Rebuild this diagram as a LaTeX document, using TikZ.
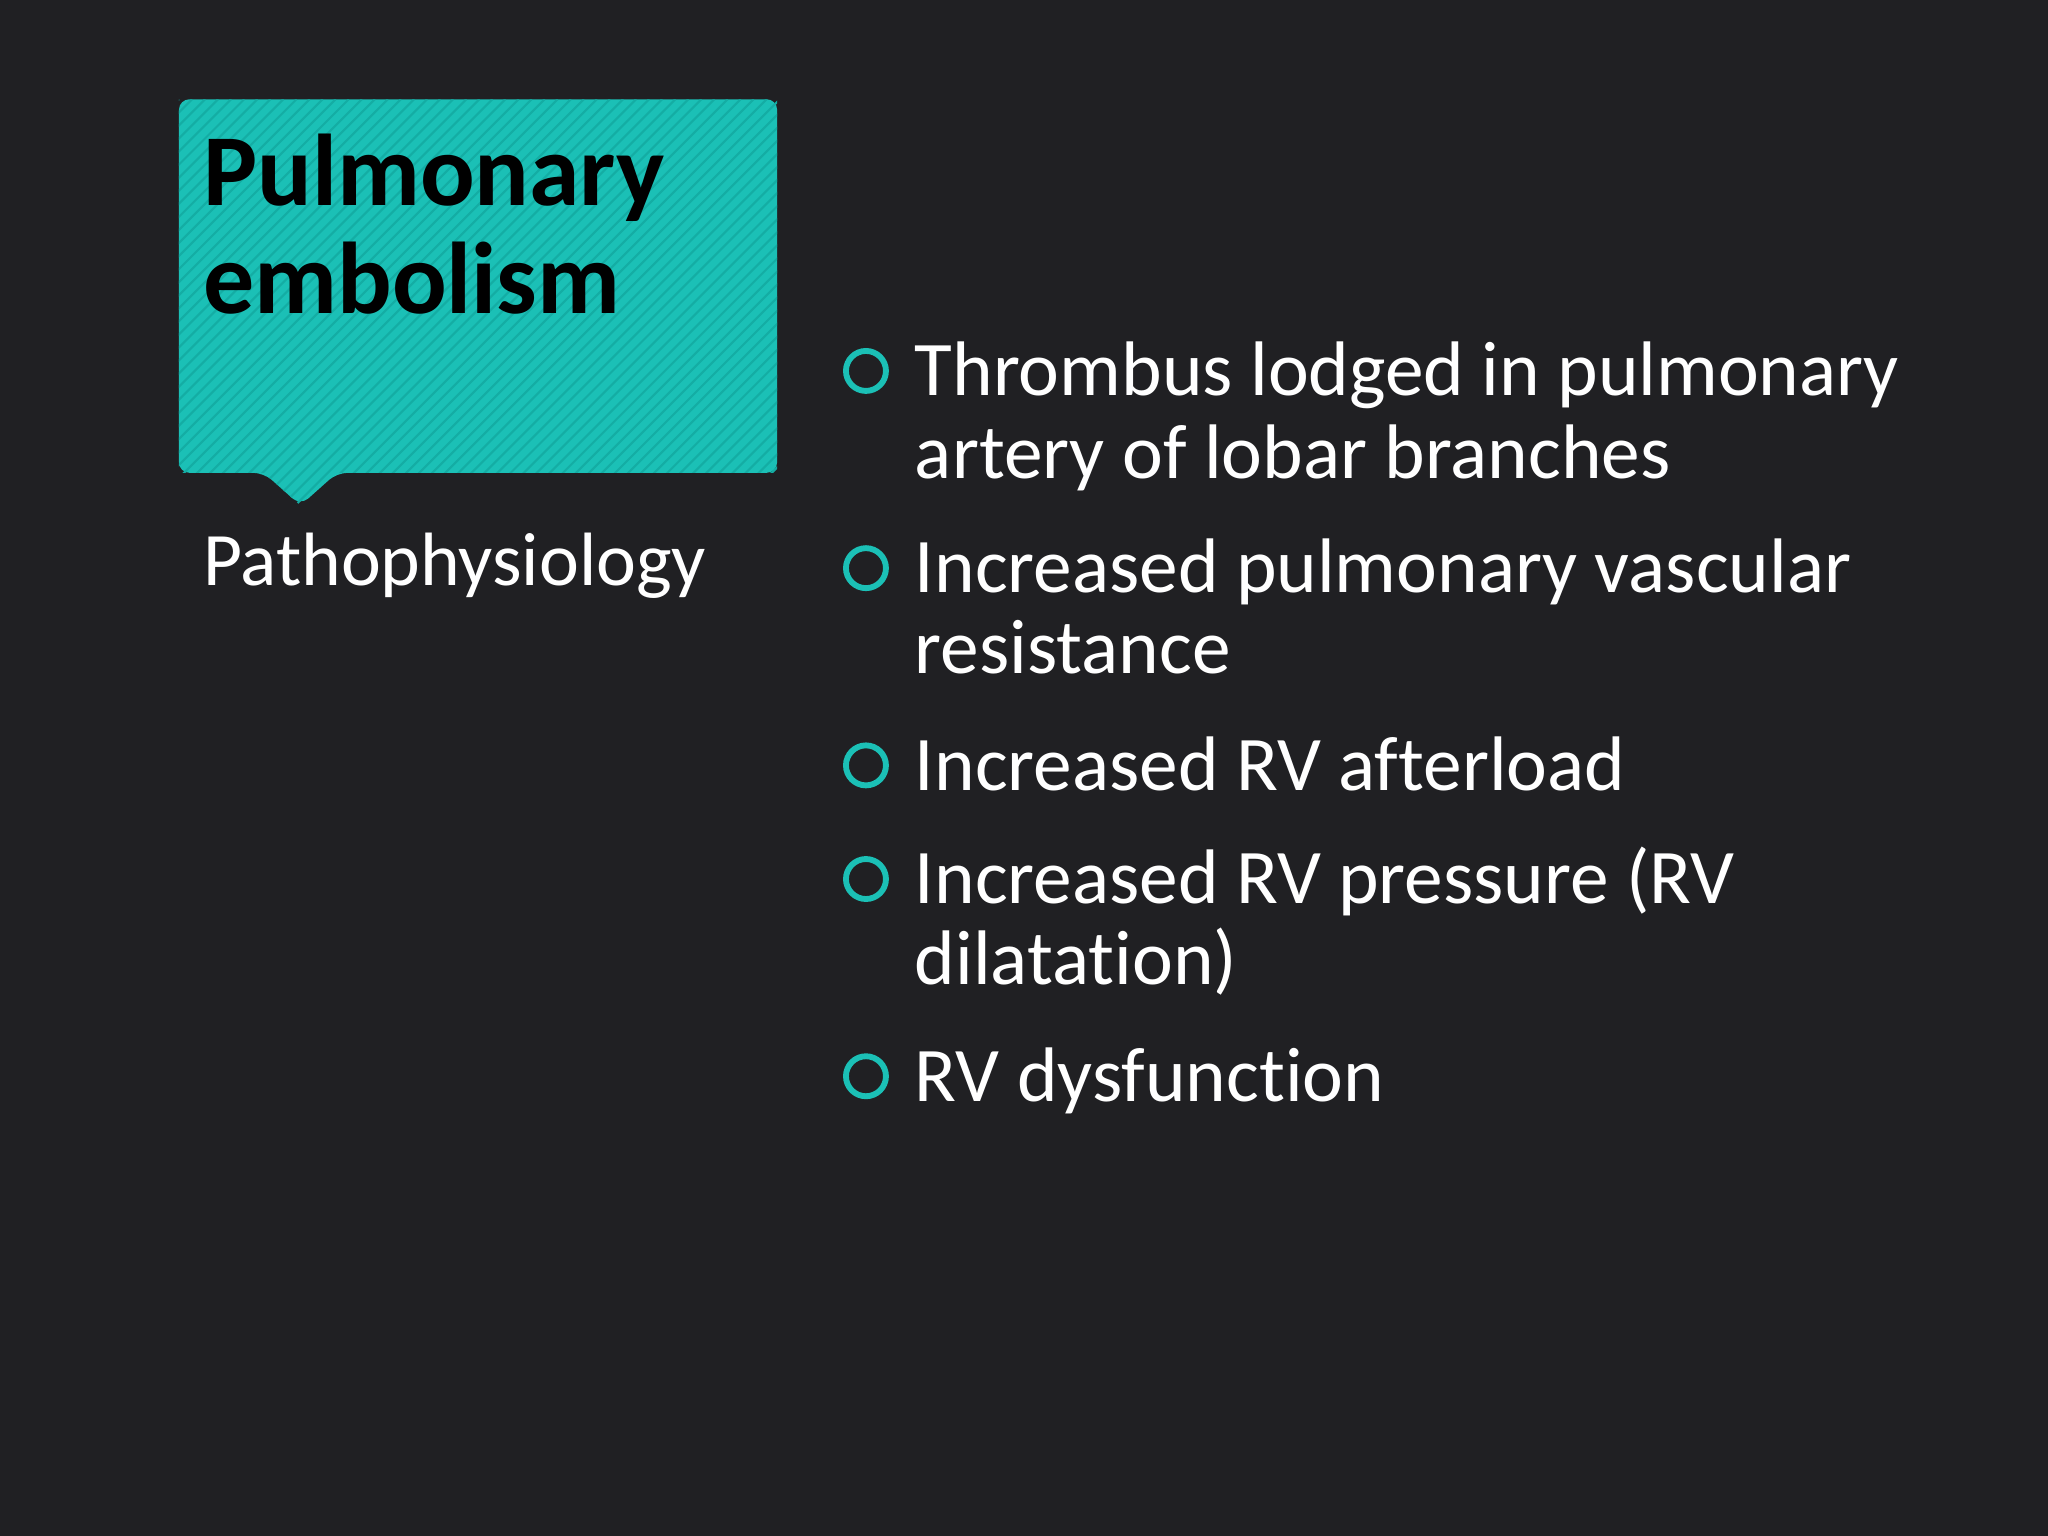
\documentclass[tikz,border=0pt]{standalone}
\usepackage{fontspec}
\setmainfont[Ligatures={NoCommon,NoRare}]{Carlito}
\usetikzlibrary{patterns}
\definecolor{bg}{HTML}{202023}
\definecolor{teal}{HTML}{1BC0B6}
\definecolor{tealdk}{HTML}{14ADA4}
\tikzset{
  bul/.style={draw=teal,line width=4.5pt*0.37,circle,minimum size=0.4cm,inner sep=0pt},
  btxt/.style={anchor=base west,text=white,font=\fontsize{22}{26}\selectfont,inner sep=0pt},
}
\begin{document}
\begin{tikzpicture}[x=0.013061cm,y=-0.013061cm]
\fill[bg] (0,0) rectangle (1568,1176);
\path[use as bounding box] (0,0) rectangle (1568,1176);
\path[fill=teal,rounded corners=3pt] (137,76) -- (595,76) -- (595,362) -- (258,362) -- (230,387) -- (202,362) -- (137,362) -- cycle;
\begin{scope}
\clip (137,76) -- (595,76) -- (595,362) -- (258,362) -- (230,387) -- (202,362) -- (137,362) -- cycle;
\foreach \i in {0,10,...,800} {\draw[tealdk,line width=0.6pt] (137+\i-320,76+320) -- (137+\i,76);}
\end{scope}
\node (title1) [anchor=base west,inner sep=0pt,font=\bfseries\fontsize{29}{34}\selectfont,text=black] at (155,157) {Pulmonary};
\node (title2) [anchor=base west,inner sep=0pt,font=\bfseries\fontsize{29}{34}\selectfont,text=black] at (155,240) {embolism};
\node (sub) [anchor=base west,inner sep=0pt,text=white,font=\fontsize{21.5}{26}\selectfont] at (155,448) {Pathophysiology};
\foreach \y/\t [count=\k] in {303/{Thrombus lodged in pulmonary},454/{Increased pulmonary vascular},605/{Increased RV afterload},692/{Increased RV pressure (RV},843/{RV dysfunction}} {
  \node (b\k) [bul] at (663,\y-19) {};
  \node (t\k) [btxt] at (700,\y) {\t};
}
\node (t1b) [btxt] at (700,366) {artery of lobar branches};
\node (t2b) [btxt] at (700,516) {resistance};
\node (t4b) [btxt] at (700,754) {dilatation)};
\end{tikzpicture}
\end{document}
